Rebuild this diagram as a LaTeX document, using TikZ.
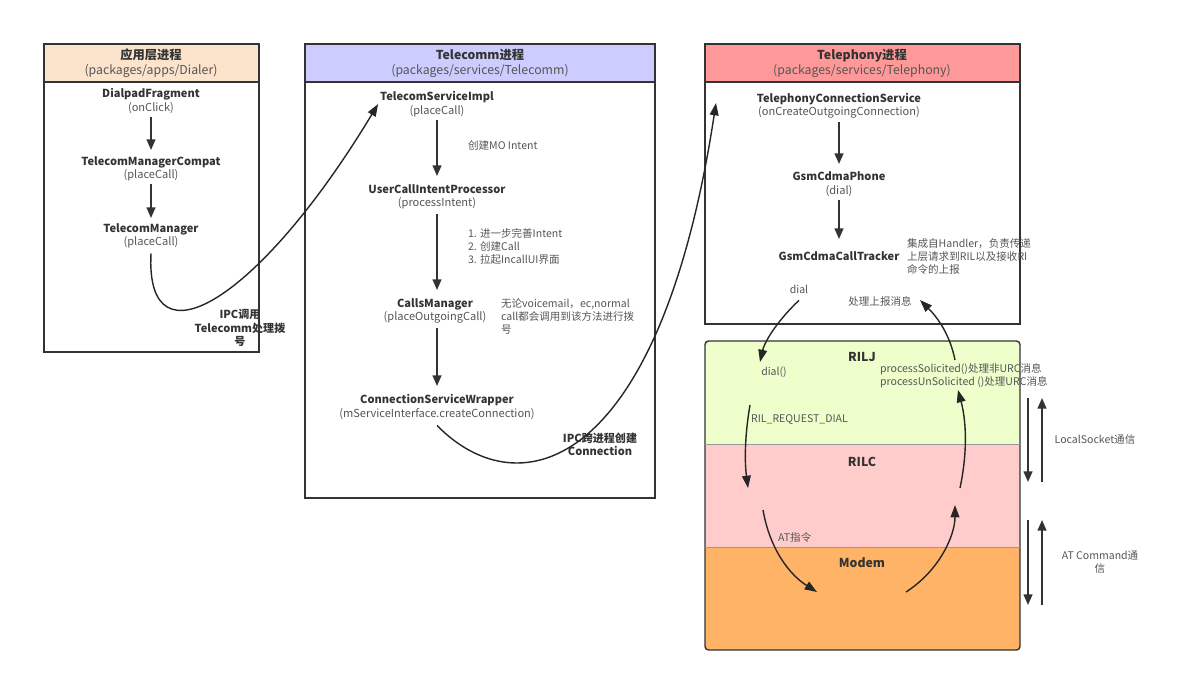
\documentclass[tikz,border=0pt]{standalone}
\usepackage{fontspec}
\setmainfont{Noto Sans CJK SC}
\usetikzlibrary{arrows.meta}
\definecolor{tx}{HTML}{333333}
\definecolor{sub}{HTML}{555555}
\begin{document}
\begin{tikzpicture}[x=0.02cm,y=-0.02cm,
  box/.style={draw=black!80,line width=0.8pt},
  t/.style={font=\fontsize{6.3}{7.6}\selectfont,text=tx,align=center,inner sep=1pt},
  hd/.style={t,font=\fontsize{7}{8.4}\selectfont},
  lb/.style={font=\fontsize{6}{7.4}\selectfont,text=sub,align=left,inner sep=1pt},
  ar/.style={draw=black!80,line width=0.9pt,-{Triangle[length=6pt,width=5pt]}},
  cv/.style={draw=black!85,line width=0.8pt,-{Triangle[length=7pt,width=5pt]}}]
\useasboundingbox (0,0) rectangle (1200,680);
% app box
\fill[fill={rgb,255:red,252;green,228;blue,204}] (44,44) rectangle (259,82);
\draw[box] (44,44) rectangle (259,352); \draw[box] (44,82) -- (259,82);
\node[hd] (h1) at (151,63) {\textbf{应用层进程}\\\textcolor{sub}{(packages/apps/Dialer)}};
\fill[fill={rgb,255:red,204;green,204;blue,255}] (305,44) rectangle (655,82);
\draw[box] (305,44) rectangle (655,498); \draw[box] (305,82) -- (655,82);
\node[hd] (h2) at (480,63) {\textbf{Telecomm进程}\\\textcolor{sub}{(packages/services/Telecomm)}};
\fill[fill={rgb,255:red,255;green,153;blue,153}] (705,44) rectangle (1020,82);
\draw[box] (705,44) rectangle (1020,324); \draw[box] (705,82) -- (1020,82);
\node[hd] (h3) at (862,63) {\textbf{Telephony进程}\\\textcolor{sub}{(packages/services/Telephony)}};
% RIL boxes
\fill[fill={rgb,255:red,238;green,255;blue,204}] (705,341) rectangle (1020,444);
\fill[fill={rgb,255:red,255;green,204;blue,204}] (705,444) rectangle (1020,547);
\fill[fill={rgb,255:red,255;green,179;blue,102}] (705,547) -- (1020,547) -- (1020,646) arc[start angle=0,end angle=90,radius=4] -- (709,650) arc[start angle=90,end angle=180,radius=4] -- cycle;
\draw[box,rounded corners=2pt] (705,341) rectangle (1020,650);
\draw[black!40] (705,444) -- (1020,444) (705,547) -- (1020,547);
\node[hd] (rj) at (862,357) {\textbf{RILJ}};
\node[hd] (rc) at (862,462) {\textbf{RILC}};
\node[hd] (md) at (862,563) {\textbf{Modem}};
% app nodes
\node[t] (a1) at (151,101) {\textbf{DialpadFragment}\\\textcolor{sub}{(onClick)}};
\node[t] (a2) at (151,169) {\textbf{TelecomManagerCompat}\\\textcolor{sub}{(placeCall)}};
\node[t] (a3) at (151,236) {\textbf{TelecomManager}\\\textcolor{sub}{(placeCall)}};
\draw[ar] (151,117) -- (151,150);
\draw[ar] (151,184) -- (151,218);
% telecomm nodes
\node[t] (b1) at (437,104) {\textbf{TelecomServiceImpl}\\\textcolor{sub}{(placeCall)}};
\node[t] (b2) at (437,197) {\textbf{UserCallIntentProcessor}\\\textcolor{sub}{(processIntent)}};
\node[t] (b3) at (435,311) {\textbf{CallsManager}\\\textcolor{sub}{(placeOutgoingCall)}};
\node[t] (b4) at (437,407) {\textbf{ConnectionServiceWrapper}\\\textcolor{sub}{(mServiceInterface.createConnection)}};
\draw[ar] (437,120) -- (437,176);
\draw[ar] (437,214) -- (437,290);
\draw[ar] (437,328) -- (437,386);
\node[lb,anchor=west] (l1) at (466,145) {创建MO Intent};
\node[lb,anchor=west] (l2) at (466,246) {1. 进一步完善Intent\\2. 创建Call\\3. 拉起IncallUI界面};
\node[lb,anchor=west] (l3) at (499,316) {无论voicemail，ec,normal\\call都会调用到该方法进行拨\\号};
% telephony nodes
\node[t] (c1) at (839,106) {\textbf{TelephonyConnectionService}\\\textcolor{sub}{(onCreateOutgoingConnection)}};
\node[t] (c2) at (839,184) {\textbf{GsmCdmaPhone}\\\textcolor{sub}{(dial)}};
\node[t] (c3) at (839,256) {\textbf{GsmCdmaCallTracker}};
\draw[ar] (839,122) -- (839,164);
\draw[ar] (839,200) -- (839,239);
\node[lb,anchor=west] (l4) at (905,256) {集成自Handler，负责传递\\上层请求到RIL以及接收RI\\命令的上报};
\node[lb] (dl) at (799,289) {dial};
\node[lb] (cl) at (880,301) {处理上报消息};
\node[lb] (d2) at (774,372) {dial()};
\node[lb,anchor=west] (ps) at (878,376) {processSolicited()处理非URC消息\\processUnSolicited ()处理URC消息};
\node[lb,anchor=west] (rq) at (749,420) {RIL\_REQUEST\_DIAL};
\node[lb,anchor=west] (at) at (776,537) {AT指令};
% IPC
\node[t] (i1) at (240,328) {\textbf{IPC调用}\\\textbf{Telecomm处理拨}\\\textbf{号}};
\node[t] (i2) at (600,444) {\textbf{IPC跨进程创建}\\\textbf{Connection}};
\draw[cv] (a3.south) ++(0,3) .. controls (145,370) and (260,300) .. (b1.west);
\draw[cv] (b4.south) ++(0,4) .. controls (520,510) and (660,470) .. (716,103);
% RIL curves
\draw[cv] (dl.south) ++(0,5) .. controls (780,318) and (765,340) .. (760,362);
\draw[cv] (750,405) .. controls (744,440) and (745,465) .. (748,488);
\draw[cv] (763,510) .. controls (770,550) and (790,575) .. (817,592);
\draw[cv] (906,592) .. controls (940,570) and (955,535) .. (955,505);
\draw[cv] (960,488) .. controls (968,450) and (966,420) .. (958,390);
\draw[cv] (955,360) .. controls (950,335) and (938,318) .. (920,300);
% side arrows
\draw[ar] (1028,398) -- (1028,482); \draw[ar] (1042,482) -- (1042,398);
\draw[ar] (1028,520) -- (1028,605); \draw[ar] (1042,605) -- (1042,520);
\node[lb] (ls) at (1095,440) {LocalSocket通信};
\node[lb,align=center] (ac) at (1100,562) {AT Command通\\信};
\end{tikzpicture}
\end{document}
